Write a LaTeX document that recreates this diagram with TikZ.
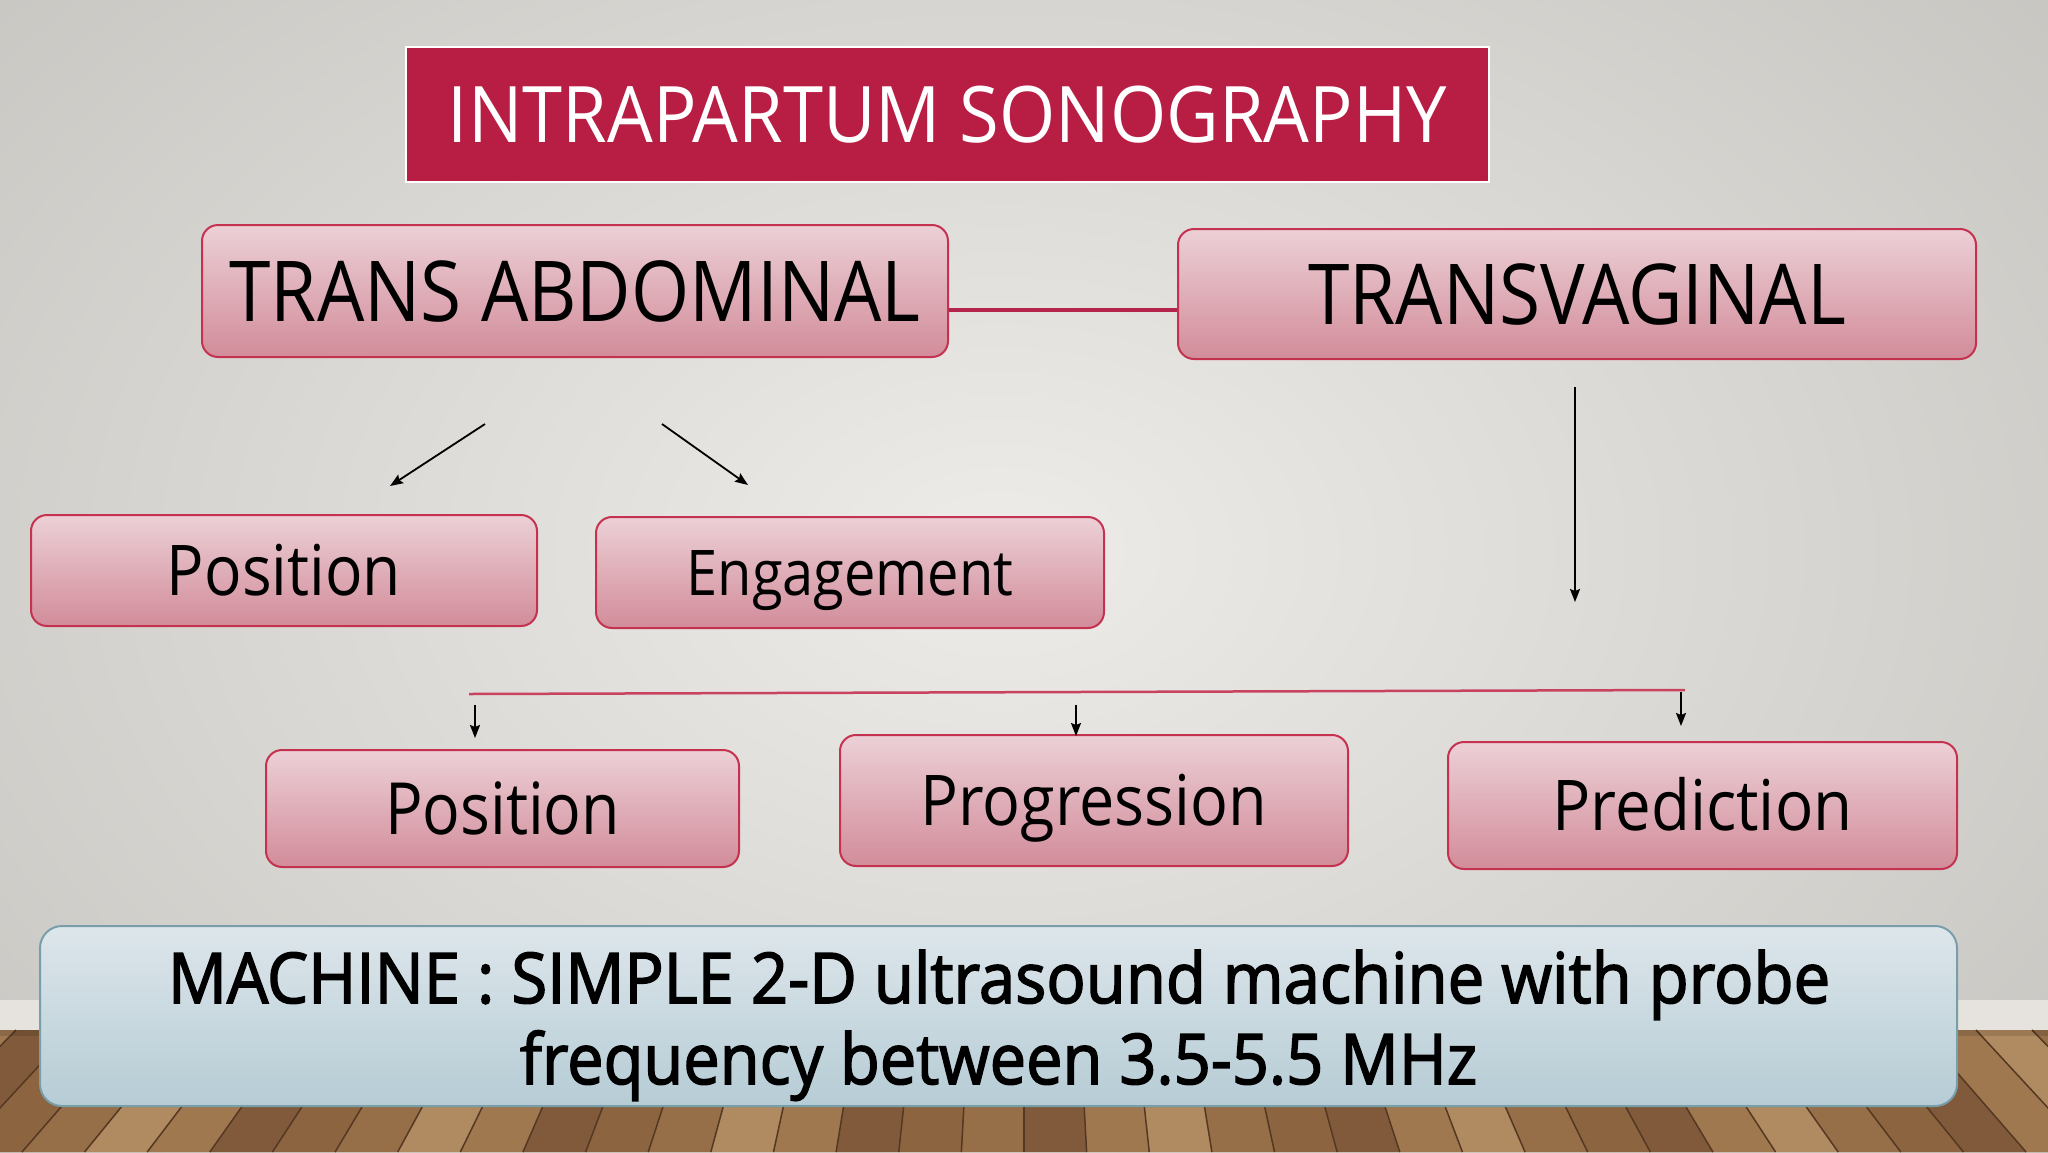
\documentclass[tikz,border=0pt]{standalone}
\usepackage{fontspec}
\setmainfont{Open Sans}
\newfontfamily\semib[FakeBold=2.2]{Open Sans}
\usepackage{graphicx}
\usetikzlibrary{arrows.meta}
\definecolor{crimson}{RGB}{184,30,68}
\definecolor{linkred}{RGB}{181,36,74}
\definecolor{hlinered}{RGB}{200,67,95}
\definecolor{boxedge}{RGB}{196,50,80}
\definecolor{pinktop}{RGB}{236,208,214}
\definecolor{pinkbot}{RGB}{210,140,154}
\definecolor{bluetop}{RGB}{221,230,235}
\definecolor{bluebot}{RGB}{182,204,213}
\definecolor{blueedge}{RGB}{120,158,170}
\definecolor{wallc}{RGB}{238,236,233}
\definecolor{walle}{RGB}{196,194,189}
\definecolor{baseb}{RGB}{230,226,222}
\definecolor{woodA}{RGB}{160,120,80}
\definecolor{woodB}{RGB}{140,100,64}
\definecolor{woodC}{RGB}{176,138,96}
\definecolor{woodD}{RGB}{128,90,58}
\definecolor{woodE}{RGB}{150,110,72}
\definecolor{woodline}{RGB}{84,56,34}
\newcommand{\fitw}[3]{\resizebox{#1pt}{\height}{\fontsize{#2}{#2}\selectfont #3}}
\begin{document}
\begin{tikzpicture}[x=1pt,y=-1pt,
  pbox/.style={draw=boxedge, line width=2pt, rounded corners=16pt,
    top color=pinktop, bottom color=pinkbot, text=black, inner sep=0pt, text depth=0pt},
  arr/.style={-{Stealth[length=13pt,width=10pt,inset=2pt]}, line width=1.8pt, black},
]
\useasboundingbox (0,0) rectangle (2048,1152);
\begin{scope}
\clip (0,0) rectangle (2048,1152);
% wall
\shade[inner color=wallc, outer color=walle] (-500,-450) rectangle (2500,1550);
\fill[baseb] (0,1000) rectangle (2048,1030);
% floor
\fill[woodA] (0,1030) rectangle (2048,1152);
\foreach \i in {-30,...,29}{
  \pgfmathsetmacro{\xa}{1024+\i*56}
  \pgfmathsetmacro{\xb}{1024+(\i+1)*56}
  \pgfmathsetmacro{\xc}{1024+(\i+1)*56*1.1184}
  \pgfmathsetmacro{\xd}{1024+\i*56*1.1184}
  \pgfmathtruncatemacro{\k}{mod(abs(\i*7+3),5)}
  \ifcase\k \def\wc{woodA}\or \def\wc{woodB}\or \def\wc{woodC}\or \def\wc{woodD}\or \def\wc{woodE}\fi
  \fill[\wc] (\xa,1030) -- (\xb,1030) -- (\xc,1152) -- (\xd,1152) -- cycle;
  \draw[woodline, line width=1.5pt] (\xa,1030) -- (\xd,1152);
}
\fill[black, opacity=0.12] (0,1030) rectangle (2048,1036);
\end{scope}

% title
\node[fill=crimson, draw=white, line width=2.5pt, minimum width=1083pt, minimum height=135pt,
  text=white, inner sep=0pt, text height=56pt, text depth=0pt] (title) at (947.5,114.5)
  {\fitw{999}{78}{INTRAPARTUM SONOGRAPHY}};

% level 1
\node[pbox, minimum width=746pt, minimum height=132pt, text height=60pt] (ta) at (575,291)
  {\fitw{691}{84}{TRANS ABDOMINAL}};
\node[pbox, minimum width=798pt, minimum height=130pt, text height=60pt] (tv) at (1577,294)
  {\fitw{538}{84}{TRANSVAGINAL}};
\draw[linkred, line width=4pt] (ta.east |- 0,310) -- (tv.west |- 0,310);

% level 2
\node[pbox, minimum width=506pt, minimum height=111pt, text height=50pt] (pos1) at (284,570.5)
  {\fitw{234}{70}{Position}};
\node[pbox, minimum width=508pt, minimum height=111pt, text height=45pt] (eng) at (850,572.5)
  {\fitw{327}{63}{Engagement}};

\coordinate (a1s) at (485,424); \coordinate (a1e) at (390,486);
\coordinate (a2s) at (662,424); \coordinate (a2e) at (748,485);
\coordinate (tvs) at (1575,387); \coordinate (tve) at (1575,602);
\draw[arr] (a1s) -- (a1e);
\draw[arr] (a2s) -- (a2e);
\draw[arr] (tvs) -- (tve);

% level 3
\coordinate (hl) at (469,694); \coordinate (hr) at (1685,690);
\draw[hlinered, line width=2.5pt] (hl) -- (hr);
\node[pbox, minimum width=473pt, minimum height=117pt, text height=52pt] (pos2) at (502.5,808.5)
  {\fitw{235}{72}{Position}};
\node[pbox, minimum width=508pt, minimum height=131pt, text height=50pt] (prog) at (1094,800.5)
  {\fitw{347}{70}{Progression}};
\node[pbox, minimum width=509pt, minimum height=127pt, text height=50pt] (pred) at (1702.5,805.5)
  {\fitw{300}{70}{Prediction}};
\coordinate (d1s) at (475,705); \coordinate (d1e) at (475,738);
\coordinate (d2s) at (1076,705); \coordinate (d2e) at (1076,736);
\coordinate (d3s) at (1681,692); \coordinate (d3e) at (1681,726);
\draw[arr] (d1s) -- (d1e);
\draw[arr] (d2s) -- (d2e);
\draw[arr] (d3s) -- (d3e);

% machine
\node[draw=blueedge, line width=2pt, rounded corners=22pt, top color=bluetop, bottom color=bluebot,
  minimum width=1917pt, minimum height=180pt, inner sep=0pt] (mach) at (998.5,1016) {};
\node[anchor=base, inner sep=0pt] (m1) at (999,1003) {\fitw{1662}{70}{\semib MACHINE : SIMPLE 2-D ultrasound machine with probe}};
\node[anchor=base, inner sep=0pt] (m2) at (998.5,1084) {\fitw{957}{70}{\semib frequency between 3.5-5.5 MHz}};
\end{tikzpicture}
\end{document}
